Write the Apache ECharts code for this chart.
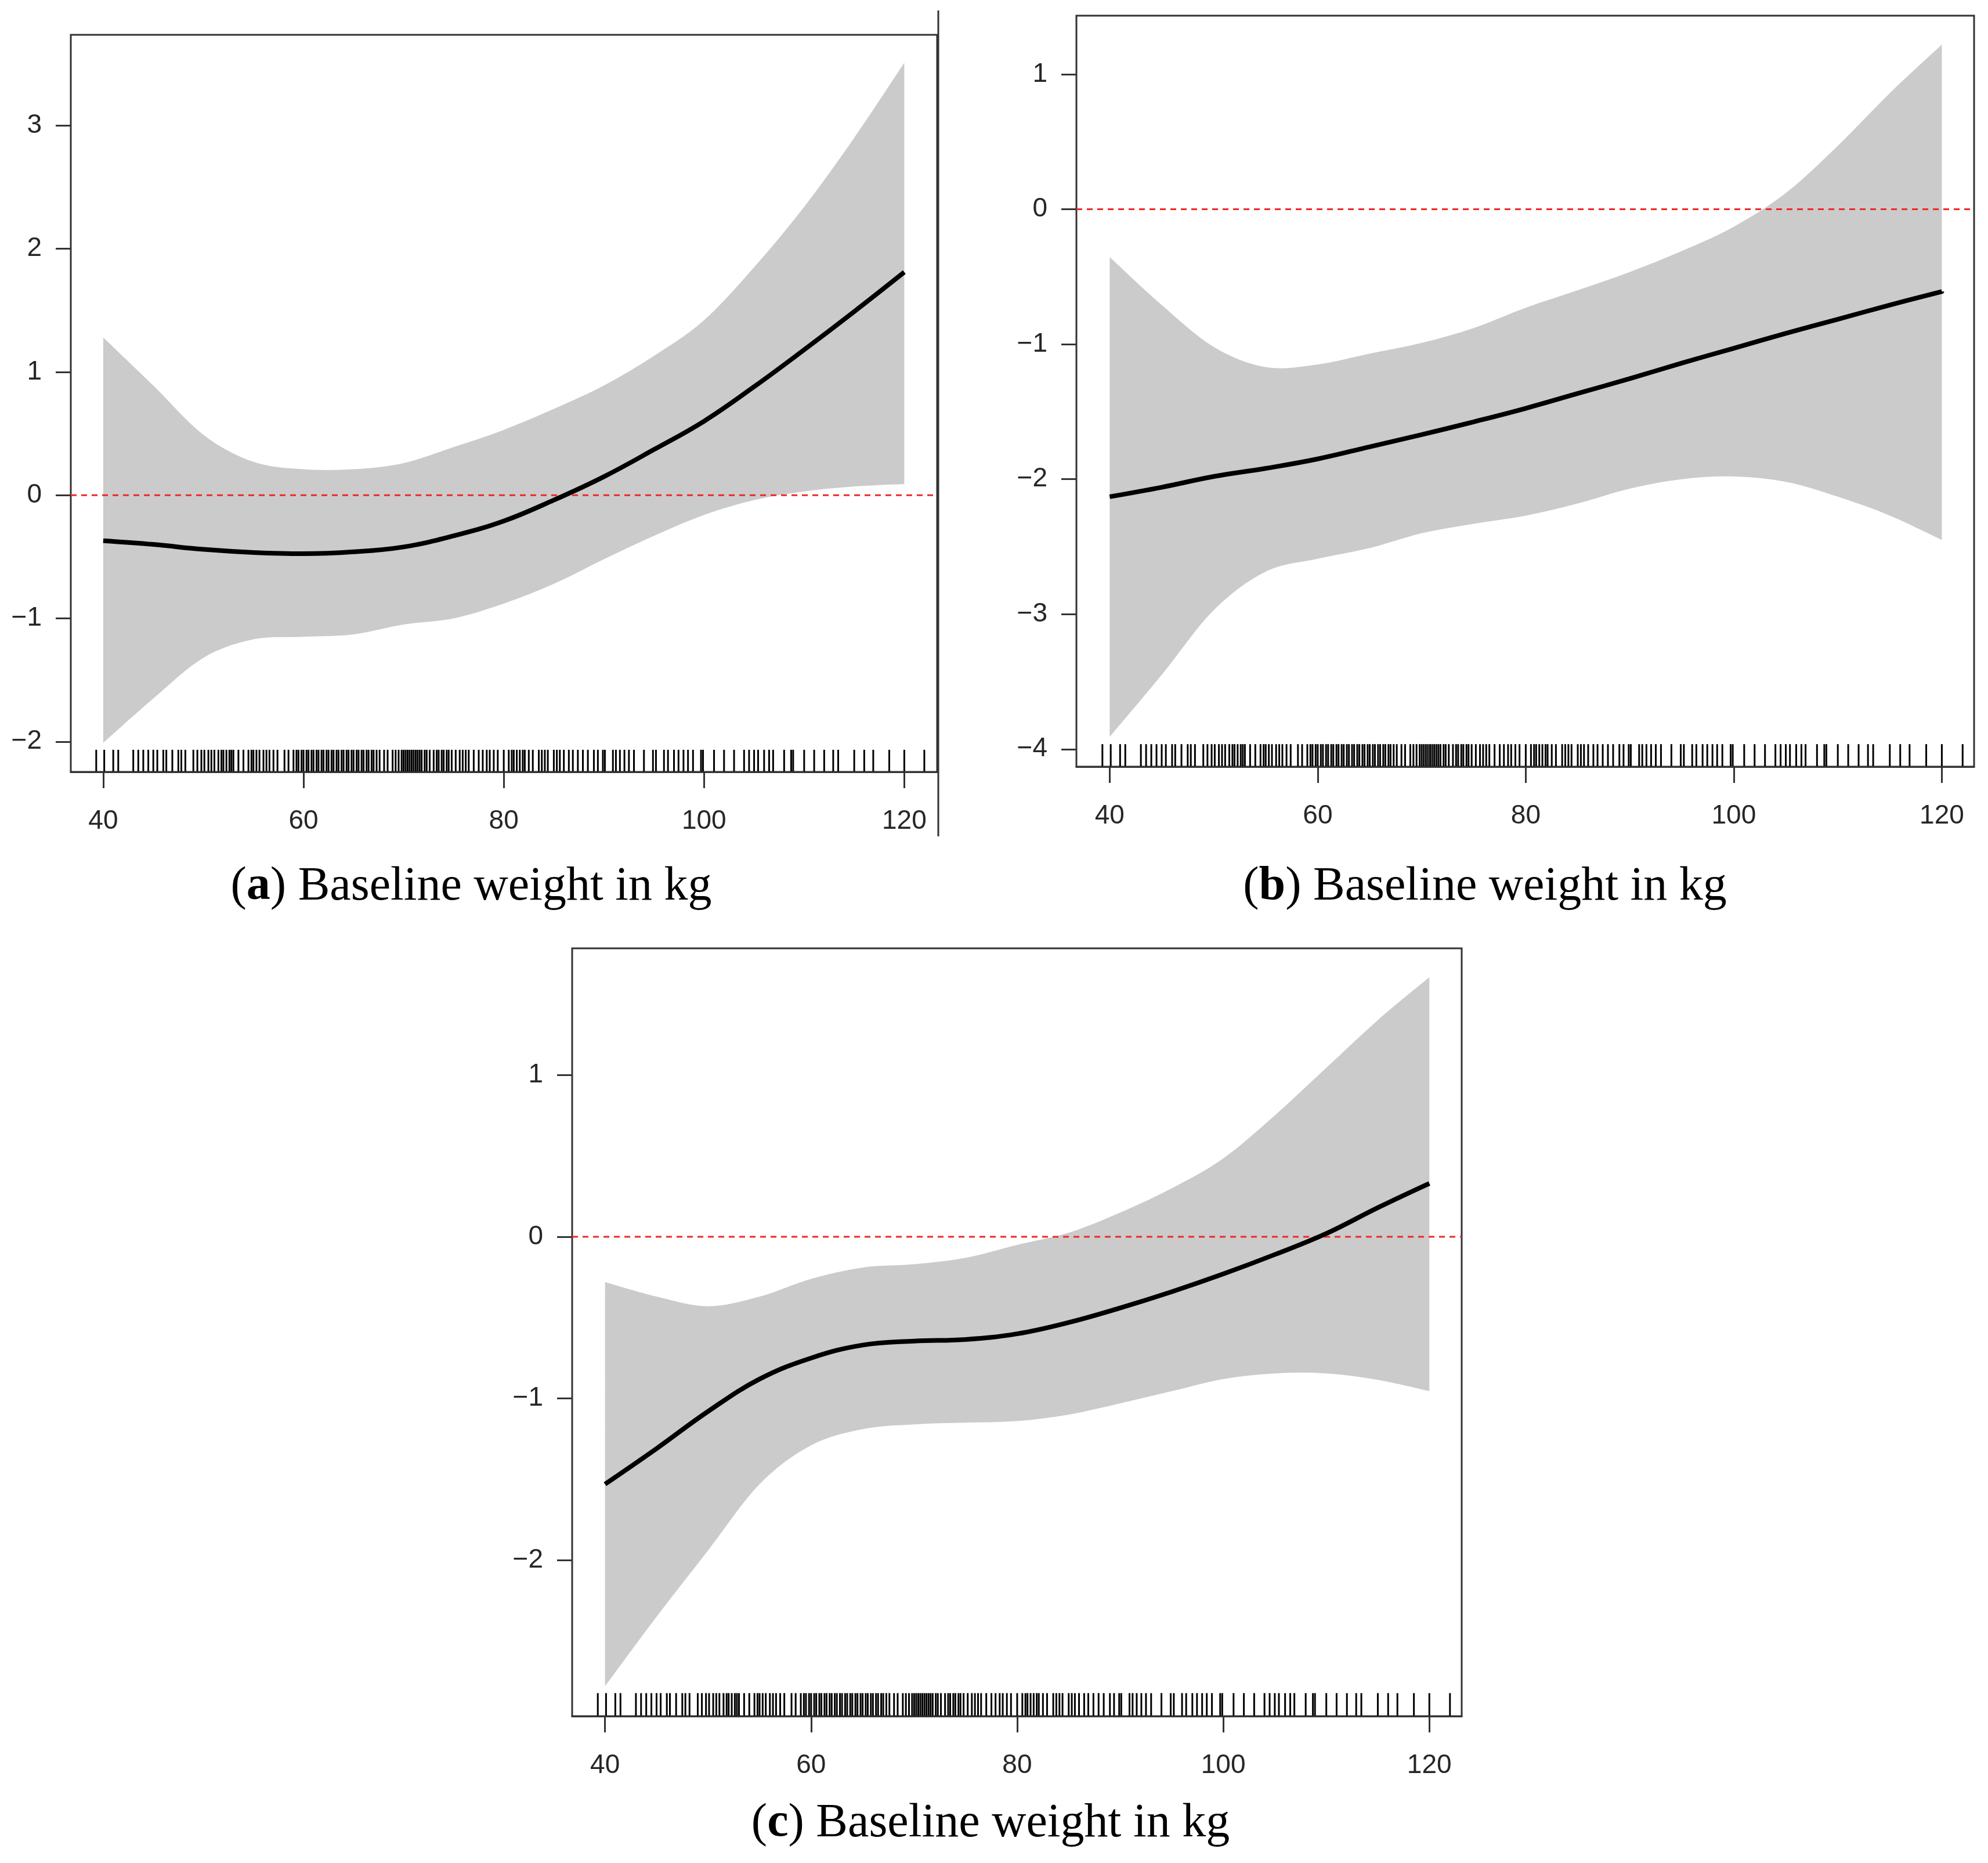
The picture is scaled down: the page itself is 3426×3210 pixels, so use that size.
<!DOCTYPE html>
<html>
<head>
<meta charset="utf-8">
<title>Baseline weight in kg</title>
<script src="https://cdn.jsdelivr.net/npm/echarts@6/dist/echarts.min.js"></script>
<style>
  html, body { margin: 0; padding: 0; background: #fff; }
  #chart { width: 3426px; height: 3210px; }
</style>
</head>
<body>
<div id="chart"></div>
<script>
const weightKg = [40, 45, 50, 55, 60, 65, 70, 75, 80, 85, 90, 95, 100, 105, 110, 115, 120]

// panel (a)
const aFit   = [-0.37, -0.40, -0.44, -0.465, -0.475, -0.46, -0.42, -0.33, -0.21, -0.04, 0.15, 0.37, 0.60, 0.88, 1.18, 1.49, 1.81]
const aUpper = [1.28, 0.89, 0.49, 0.27, 0.21, 0.21, 0.26, 0.39, 0.53, 0.70, 0.89, 1.13, 1.42, 1.85, 2.34, 2.90, 3.51]
const aLower = [-2.01, -1.65, -1.32, -1.17, -1.15, -1.13, -1.05, -1.00, -0.88, -0.72, -0.52, -0.33, -0.16, -0.04, 0.03, 0.07, 0.09]

// panel (b)
const bFit   = [-2.13, -2.06, -1.98, -1.92, -1.85, -1.76, -1.67, -1.575, -1.475, -1.365, -1.255, -1.14, -1.03, -0.92, -0.815, -0.71, -0.61]
const bUpper = [-0.355, -0.71, -1.02, -1.17, -1.15, -1.07, -0.99, -0.88, -0.73, -0.60, -0.465, -0.31, -0.13, 0.12, 0.47, 0.86, 1.22]
const bLower = [-3.91, -3.45, -2.97, -2.685, -2.59, -2.51, -2.40, -2.33, -2.27, -2.18, -2.07, -2.00, -1.98, -2.02, -2.13, -2.27, -2.45]

// panel (c)
const cFit   = [-1.53, -1.31, -1.08, -0.88, -0.75, -0.67, -0.645, -0.635, -0.60, -0.53, -0.44, -0.34, -0.23, -0.11, 0.02, 0.18, 0.33]
const cUpper = [-0.28, -0.37, -0.43, -0.37, -0.26, -0.19, -0.17, -0.13, -0.05, 0.025, 0.15, 0.30, 0.485, 0.75, 1.045, 1.34, 1.605]
const cLower = [-2.78, -2.35, -1.94, -1.53, -1.29, -1.19, -1.16, -1.15, -1.14, -1.10, -1.03, -0.955, -0.88, -0.845, -0.845, -0.885, -0.955]

// observed baseline weights (rug), same sample in all three panels
const rugKg = [
  39.3, 40.1, 41.0, 41.5, 43.0, 43.5, 44.0, 44.5, 45.0, 45.4, 46.0, 46.3, 46.9, 47.5, 47.8, 48.2,
  49.0, 49.4, 49.8, 50.1, 50.5, 50.8, 51.1, 51.5, 51.8, 52.0, 52.3, 52.6, 52.8, 53.0, 53.5, 54.0,
  54.5, 54.8, 55.0, 55.3, 55.6, 56.0, 56.3, 56.6, 57.0, 57.4, 58.1, 58.5, 59.0, 59.3, 59.5, 59.8,
  60.0, 60.3, 60.5, 60.8, 61.0, 61.3, 61.5, 61.8, 62.0, 62.3, 62.5, 62.8, 63.0, 63.3, 63.5, 63.8,
  64.0, 64.3, 64.5, 64.8, 65.0, 65.3, 65.5, 65.8, 66.0, 66.3, 66.5, 66.8, 67.0, 67.3, 67.6, 68.05,
  68.4, 68.9, 69.2, 69.5, 69.8, 70.0, 70.2, 70.4, 70.6, 70.8, 71.0, 71.2, 71.4, 71.6, 71.8, 72.1,
  72.3, 72.6, 73.0, 73.3, 73.5, 73.8, 74.0, 74.3, 74.5, 74.8, 75.2, 75.6, 75.9, 76.2, 76.5, 77.0,
  77.5, 77.9, 78.3, 78.6, 79.0, 79.4, 80.0, 80.5, 80.8, 81.0, 81.3, 81.6, 81.9, 82.1, 82.5, 82.9,
  83.5, 83.8, 84.1, 84.4, 85.0, 85.3, 85.6, 86.0, 86.5, 86.9, 87.4, 87.9, 88.4, 89.0, 89.4, 89.9,
  90.1, 90.9, 91.2, 91.6, 92.05, 92.5, 93.0, 94.0, 94.9, 95.2, 96.0, 96.4, 97.0, 97.45, 97.95, 98.4,
  98.9, 99.7, 99.9, 101.0, 102.0, 103.0, 104.0, 104.5, 105.0, 105.4, 106.0, 106.5, 106.9, 108.0,
  108.7, 108.9, 110.0, 111.0, 112.0, 112.9, 113.4, 115.0, 116.0, 116.9, 118.5, 120.0, 122.0
]

const xTicks = [40, 60, 80, 100, 120]
const aYTicks = [-2, -1, 0, 1, 2, 3]
const bYTicks = [-4, -3, -2, -1, 0, 1]
const cYTicks = [-2, -1, 0, 1]

const captions = ['a', 'b', 'c']

// layout of the three plot boxes (pixels) and their axis ranges
const panels = [
  { grid: { left: 122, top: 60, width: 1493, height: 1270 }, xMin: 36.76, xMax: 123.28, yMin: -2.246, yMax: 3.736,
    yTicks: aYTicks, fit: aFit, upper: aUpper, lower: aLower, caption: [812, 1528] },
  { grid: { left: 1855, top: 27, width: 1547, height: 1294 }, xMin: 36.8, xMax: 123.1, yMin: -4.13, yMax: 1.434,
    yTicks: bYTicks, fit: bFit, upper: bUpper, lower: bLower, caption: [2559, 1528] },
  { grid: { left: 986, top: 1634, width: 1533, height: 1323 }, xMin: 36.81, xMax: 123.14, yMin: -2.965, yMax: 1.784,
    yTicks: cYTicks, fit: cFit, upper: cUpper, lower: cLower, caption: [1707, 3142] }
]

const axisColor = '#333'
const labelFont = 'Liberation Sans'
const captionFont = 'Liberation Serif'

function fmt(v) {
  return v < 0 ? '\u2212' + Math.abs(v) : String(v)
}

// cubic (catmull-rom) path through already projected points
function curveThrough(pts, start) {
  let d = start ? 'M' + pts[0][0] + ',' + pts[0][1] : 'L' + pts[0][0] + ',' + pts[0][1]
  for (let k = 0; k < pts.length - 1; k++) {
    const p0 = pts[Math.max(k - 1, 0)]
    const p1 = pts[k]
    const p2 = pts[k + 1]
    const p3 = pts[Math.min(k + 2, pts.length - 1)]
    const c1x = p1[0] + (p2[0] - p0[0]) / 6, c1y = p1[1] + (p2[1] - p0[1]) / 6
    const c2x = p2[0] - (p3[0] - p1[0]) / 6, c2y = p2[1] - (p3[1] - p1[1]) / 6
    d += 'C' + c1x + ',' + c1y + ',' + c2x + ',' + c2y + ',' + p2[0] + ',' + p2[1]
  }
  return d
}

const grids = []
const xAxes = []
const yAxes = []
const series = []
const graphics = []

panels.forEach((p, i) => {
  grids.push(Object.assign({ show: true, borderColor: axisColor, borderWidth: 3, backgroundColor: 'transparent' }, p.grid))

  xAxes.push({
    type: 'value', gridIndex: i, min: p.xMin, max: p.xMax, z: 6,
    axisLine: { show: true, onZero: false, lineStyle: { color: axisColor, width: 3 } },
    splitLine: { show: false },
    axisTick: { show: true, length: 28, customValues: xTicks, lineStyle: { color: axisColor, width: 3 } },
    axisLabel: { customValues: xTicks, margin: 62, fontSize: 46, fontFamily: labelFont, color: '#262626' }
  })
  yAxes.push({
    type: 'value', gridIndex: i, min: p.yMin, max: p.yMax,
    axisLine: { show: false, onZero: false },
    splitLine: { show: false },
    axisTick: { show: true, length: 26, customValues: p.yTicks, lineStyle: { color: axisColor, width: 3 } },
    axisLabel: { customValues: p.yTicks, margin: 50, fontSize: 46, fontFamily: labelFont, color: '#262626', formatter: fmt }
  })

  // confidence band as one closed shape: upper bound left to right, lower bound back
  series.push({
    type: 'custom', xAxisIndex: i, yAxisIndex: i, silent: true, clip: false, z: 1,
    data: [[weightKg[0], p.fit[0]]],
    renderItem: function (params, api) {
      const up = weightKg.map((x, k) => api.coord([x, p.upper[k]]))
      const lo = weightKg.map((x, k) => api.coord([x, p.lower[k]])).reverse()
      const d = curveThrough(up, true) + curveThrough(lo, false) + 'Z'
      return { type: 'path', shape: { pathData: d }, style: { fill: '#cbcbcb', stroke: null } }
    }
  })
  // reference line at zero
  series.push({
    type: 'line', xAxisIndex: i, yAxisIndex: i, symbol: 'none', silent: true,
    lineStyle: { color: '#f02828', width: 3, type: [10, 8] },
    data: [[p.xMin, 0], [p.xMax, 0]], z: 3
  })
  // rug
  series.push({
    type: 'custom', xAxisIndex: i, yAxisIndex: i, silent: true, z: 3,
    data: rugKg.map(v => [v, p.yMin]),
    renderItem: function (params, api) {
      const pt = api.coord([api.value(0), api.value(1)])
      const len = params.coordSys.height * 0.03
      return {
        type: 'line',
        shape: { x1: pt[0], y1: pt[1], x2: pt[0], y2: pt[1] - len },
        style: { stroke: '#000', lineWidth: 3 }
      }
    }
  })
  // fitted smooth
  series.push({
    type: 'line', xAxisIndex: i, yAxisIndex: i, smooth: 0.4, symbol: 'none', silent: true,
    lineStyle: { color: '#000', width: 8 },
    data: weightKg.map((x, k) => [x, p.fit[k]]), z: 4
  })

  graphics.push({
    type: 'text', x: p.caption[0], y: p.caption[1],
    style: {
      text: '{n|(}{b|' + captions[i] + '}{n|) Baseline weight in kg}',
      align: 'center', verticalAlign: 'middle',
      rich: {
        n: { fontFamily: captionFont, fontSize: 82, fill: '#000' },
        b: { fontFamily: captionFont, fontSize: 82, fontWeight: 'bold', fill: '#000' }
      }
    }
  })
})

// stray frame edge to the right of panel (a)
graphics.push({
  type: 'line', shape: { x1: 1617, y1: 18, x2: 1617, y2: 1441 },
  style: { stroke: axisColor, lineWidth: 3 }
})

const chart = echarts.init(document.getElementById('chart'), null, { renderer: 'canvas' })
chart.setOption({
  animation: false,
  backgroundColor: '#fff',
  grid: grids,
  xAxis: xAxes,
  yAxis: yAxes,
  series: series,
  graphic: graphics
})
</script>
</body>
</html>
